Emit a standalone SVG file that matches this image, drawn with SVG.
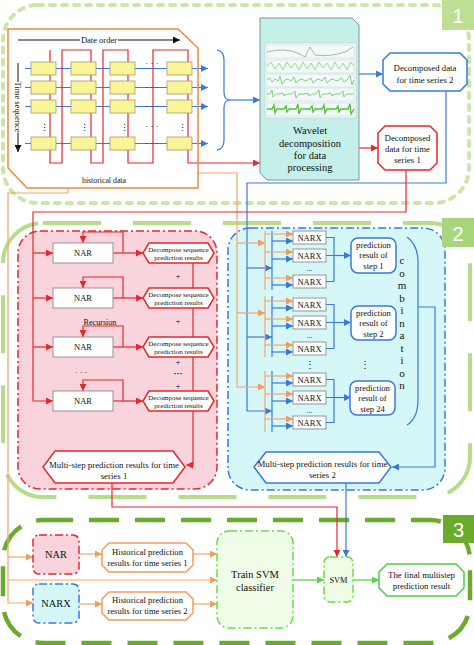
<svg xmlns="http://www.w3.org/2000/svg" width="474" height="645" viewBox="0 0 474 645">
<defs>
<style>
.t{font-family:"Liberation Serif","Times New Roman",serif;fill:#111;text-anchor:middle}
.lab{font-family:"Liberation Sans",Arial,sans-serif;fill:#fff;text-anchor:middle;font-size:20px}
.r{stroke:#e8262d;fill:none;stroke-width:1.2}
.b{stroke:#3a78de;fill:none;stroke-width:1.2}
.o{stroke:#f4a46c;fill:none;stroke-width:1.2}
.g{stroke:#55d447;fill:none;stroke-width:1.3}
.k{stroke:#111;fill:none;stroke-width:1}
.cell{fill:#fbf59a;stroke:#a09a6a;stroke-width:0.8}
.narx{fill:#fff;stroke:#8a8a8a;stroke-width:0.9}
.nar{fill:#fff;stroke:#8a8a8a;stroke-width:0.9}
.rb{fill:#fff;stroke:#e8262d;stroke-width:1.5}
.bb{fill:#fff;stroke:#3a78de;stroke-width:1.5}
.ob{fill:#fff;stroke:#f39a5c;stroke-width:1.5}
.dd{stroke-dasharray:8 3 2 3;stroke-width:1.5}
</style>
<marker id="mr" viewBox="0 0 10 10" refX="10" refY="5" markerWidth="7" markerHeight="7" orient="auto" markerUnits="userSpaceOnUse"><path d="M0,0L10,5L0,10z" fill="#e8262d"/></marker>
<marker id="mb" viewBox="0 0 10 10" refX="10" refY="5" markerWidth="7" markerHeight="7" orient="auto" markerUnits="userSpaceOnUse"><path d="M0,0L10,5L0,10z" fill="#3a78de"/></marker>
<marker id="mo" viewBox="0 0 10 10" refX="10" refY="5" markerWidth="7" markerHeight="7" orient="auto" markerUnits="userSpaceOnUse"><path d="M0,0L10,5L0,10z" fill="#f39a5c"/></marker>
<marker id="mg" viewBox="0 0 10 10" refX="10" refY="5" markerWidth="7" markerHeight="7" orient="auto" markerUnits="userSpaceOnUse"><path d="M0,0L10,5L0,10z" fill="#55d447"/></marker>
<marker id="mk" viewBox="0 0 10 10" refX="10" refY="5" markerWidth="7" markerHeight="7" orient="auto" markerUnits="userSpaceOnUse"><path d="M0,0L10,5L0,10z" fill="#111"/></marker>
</defs>
<rect width="474" height="645" fill="#fff"/>

<!-- regions -->
<g id="region1">
<rect x="3" y="5" width="466" height="198" rx="35" fill="none" stroke="#cbe7a8" stroke-width="4" stroke-dasharray="5 7" stroke-linecap="round"/>
<rect x="442" y="0" width="32" height="30" fill="#bcdf94"/>
<text class="lab" x="458" y="23">1</text>
</g>
<g id="region2">
<rect x="3" y="223" width="467" height="274" rx="40" fill="none" stroke="#b6dd8c" stroke-width="4" stroke-dasharray="58 32"/>
</g>
<g id="region3">
<rect x="3" y="520" width="467" height="123" rx="40" fill="none" stroke="#6aab2d" stroke-width="4.5" stroke-dasharray="30 16"/>
</g>

<g id="nar-area"><rect x="18" y="231" width="199" height="258" rx="22" fill="#f9d4dc" stroke="#e8262d" class="dd"/></g>
<g id="narx-area"><rect x="228" y="228" width="217" height="262" rx="22" fill="#d6f7f7" stroke="#3a78de" class="dd"/></g>
<g id="label2"><rect x="442" y="218" width="32" height="29" fill="#a9d67c"/><text class="lab" x="458" y="241">2</text></g>

<!-- connectors -->
<g id="connectors">
<!-- grid rows -->
<path class="b" d="M25,68.5H208" marker-end="url(#mb)"/>
<path class="b" d="M25,87.5H208" marker-end="url(#mb)"/>
<path class="b" d="M25,106.5H208" marker-end="url(#mb)"/>
<path class="b" d="M25,143.5H208" marker-end="url(#mb)"/>
<path class="r" d="M50,50V163H62V50H91V163H103V50H128V163H153V50H188V163H260" marker-end="url(#mr)"/>
<path class="b" d="M217,50Q224,51 224,60V92Q224,100 230,100Q224,100 224,108V140Q224,149 217,150"/>
<path class="b" d="M230,100H260" marker-end="url(#mb)"/>
<path class="k" d="M18,40H80M118,40H180" marker-end="url(#mk)"/>
<path class="k" d="M18,63V82M18,133V152" marker-end="url(#mk)"/>
<path class="b" d="M359,74H383" marker-end="url(#mb)"/>
<path class="r" d="M359,148H378" marker-end="url(#mr)"/>
<!-- decomposed 2 to NARX -->
<path class="b" d="M446,91V183H247V411H272" marker-end="url(#mb)"/>
<path class="b" d="M247,268H272" marker-end="url(#mb)"/>
<path class="b" d="M247,337H272" marker-end="url(#mb)"/>
<!-- orange from historical -->
<path class="o" d="M198,173H237V387H265" marker-end="url(#mo)"/>
<path class="o" d="M237,243H265" marker-end="url(#mo)"/>
<path class="o" d="M237,313H265" marker-end="url(#mo)"/>
<!-- buses -->
<path class="o" d="M265,231V290M265,296V357M265,371V432"/>
<path class="b" d="M272,231V290M272,296V357M272,371V432"/>
<!-- NARX inputs -->
<g>
<path class="o" d="M265,234H293" marker-end="url(#mo)"/><path class="b" d="M272,241H293" marker-end="url(#mb)"/>
<path class="o" d="M265,252H293" marker-end="url(#mo)"/><path class="b" d="M272,259H293" marker-end="url(#mb)"/>
<path class="o" d="M265,278H293" marker-end="url(#mo)"/><path class="b" d="M272,285H293" marker-end="url(#mb)"/>
<path class="o" d="M265,301H293" marker-end="url(#mo)"/><path class="b" d="M272,308H293" marker-end="url(#mb)"/>
<path class="o" d="M265,319H293" marker-end="url(#mo)"/><path class="b" d="M272,326H293" marker-end="url(#mb)"/>
<path class="o" d="M265,345H293" marker-end="url(#mo)"/><path class="b" d="M272,352H293" marker-end="url(#mb)"/>
<path class="o" d="M265,376H293" marker-end="url(#mo)"/><path class="b" d="M272,383H293" marker-end="url(#mb)"/>
<path class="o" d="M265,394H293" marker-end="url(#mo)"/><path class="b" d="M272,401H293" marker-end="url(#mb)"/>
<path class="o" d="M265,419H293" marker-end="url(#mo)"/><path class="b" d="M272,426H293" marker-end="url(#mb)"/>
</g>
<!-- NARX outputs -->
<path class="b" d="M326,237.5H334V281.5H326M326,255.5H334"/>
<path class="b" d="M334,255.5H351" marker-end="url(#mb)"/>
<path class="b" d="M326,304.5H334V348.5H326M326,322.5H334"/>
<path class="b" d="M334,322.5H351" marker-end="url(#mb)"/>
<path class="b" d="M326,379.5H334V422.5H326M326,397.5H334"/>
<path class="b" d="M334,397.5H351" marker-end="url(#mb)"/>
<path class="b" d="M407,237Q418,245 418,262V400Q418,418 407,425"/>
<path class="b" d="M418,307H435V467H392" marker-end="url(#mb)"/>
<!-- red to NAR -->
<path class="r" d="M406,170V212H33V401H53" marker-end="url(#mr)"/>
<path class="r" d="M33,253H53" marker-end="url(#mr)"/>
<path class="r" d="M33,298H53" marker-end="url(#mr)"/>
<path class="r" d="M33,347H53" marker-end="url(#mr)"/>
<g>
<path class="r" d="M113,253H143" marker-end="url(#mr)"/><path class="r" d="M123,253V232H83V243" marker-end="url(#mr)"/>
<path class="r" d="M113,298H143" marker-end="url(#mr)"/><path class="r" d="M123,298V277H83V288" marker-end="url(#mr)"/>
<path class="r" d="M113,347H143" marker-end="url(#mr)"/><path class="r" d="M123,347V326H83V337" marker-end="url(#mr)"/>
<path class="r" d="M113,401H143" marker-end="url(#mr)"/><path class="r" d="M123,401V380H83V391" marker-end="url(#mr)"/>
</g>
<path class="r" d="M193,263V465H186" marker-end="url(#mr)"/>
<!-- to SVM -->
<path class="r" d="M112,483V507H337V557" marker-end="url(#mr)"/>
<path class="b" d="M346,483V557" marker-end="url(#mb)"/>
<!-- region 3 orange -->
<path class="o" d="M68,188V193H8V603H33" marker-end="url(#mo)"/>
<path class="o" d="M8,557H33" marker-end="url(#mo)"/>
<path class="o" d="M8,580H217" marker-end="url(#mo)"/>
<path class="o" d="M79,554H102" marker-end="url(#mo)"/>
<path class="o" d="M193,554H217" marker-end="url(#mo)"/>
<path class="o" d="M79,604H102" marker-end="url(#mo)"/>
<path class="o" d="M193,604H217" marker-end="url(#mo)"/>
<path class="g" d="M293,580H324" marker-end="url(#mg)"/>
<path class="g" d="M353,580H379" marker-end="url(#mg)"/>
</g>

<!-- historical data node -->
<g id="historical-data">
<polygon points="8,29 178,29 198,48 198,188 27,188 8,168" fill="none" stroke="#f0883a" stroke-width="1.5"/>
<g>
<rect class="cell" x="31" y="62" width="25" height="13"/><rect class="cell" x="71" y="62" width="25" height="13"/><rect class="cell" x="110" y="62" width="25" height="13"/><rect class="cell" x="167" y="62" width="25" height="13"/>
<rect class="cell" x="31" y="81" width="25" height="13"/><rect class="cell" x="71" y="81" width="25" height="13"/><rect class="cell" x="110" y="81" width="25" height="13"/><rect class="cell" x="167" y="81" width="25" height="13"/>
<rect class="cell" x="31" y="100" width="25" height="13"/><rect class="cell" x="71" y="100" width="25" height="13"/><rect class="cell" x="110" y="100" width="25" height="13"/><rect class="cell" x="167" y="100" width="25" height="13"/>
<rect class="cell" x="31" y="137" width="25" height="13"/><rect class="cell" x="71" y="137" width="25" height="13"/><rect class="cell" x="110" y="137" width="25" height="13"/><rect class="cell" x="167" y="137" width="25" height="13"/>
</g>
<g class="t" font-size="9" style="font-family:'DejaVu Serif',serif">
<text x="44" y="131">⋮</text><text x="84" y="131">⋮</text><text x="124" y="131">⋮</text><text x="182" y="131">⋮</text>
</g>
<g class="t" font-size="9">
<text x="152" y="66">· · ·</text><text x="152" y="90">· · ·</text><text x="152" y="109">· · ·</text><text x="152" y="129">· · ·</text><text x="152" y="146">· · ·</text>
</g>
<text class="t" x="99" y="43" font-size="8.5">Date order</text>
<text class="t" font-size="8.5" transform="translate(15,107) rotate(90)">Time sequence</text>
<text class="t" x="104" y="183" font-size="7.8">historical data</text>
</g>

<g id="wavelet">
<polygon points="260,18 352,18 359,25 359,180 267,180 260,173" fill="#c5f0ea" stroke="#7f9795" stroke-width="1"/>
<rect x="265" y="43" width="91" height="75" fill="#f2faf9" stroke="#c8c8c8" stroke-width="0.6"/>
<g fill="none" stroke="#cfcfcf" stroke-width="0.5">
<rect x="267" y="45" width="87" height="13"/><rect x="267" y="60" width="87" height="13"/><rect x="267" y="74" width="87" height="13"/><rect x="267" y="88" width="87" height="13"/><rect x="267" y="103" width="87" height="13"/>
</g>
<path d="M267,52Q285,47 300,54L305,57L310,47L315,55Q330,57 345,52L353,47" fill="none" stroke="#9aa39a" stroke-width="0.8"/>
<polyline fill="none" stroke="#8ccf7a" stroke-width="0.8" points="267,66 271,62 275,69 279,63 283,70 287,62 291,68 295,63 299,70 303,62 307,69 311,63 315,70 319,62 323,68 327,63 331,70 335,62 339,69 343,63 347,70 351,62 354,66"/>
<polyline fill="none" stroke="#6cc45a" stroke-width="0.8" points="267,80 270,78 272,82 275,79 278,81 280,76 282,84 285,80 288,79 291,81 294,77 296,83 299,80 302,79 305,81 308,80 311,78 313,83 316,80 319,79 322,81 325,77 327,83 330,80 333,79 336,81 339,80 342,78 344,82 347,80 350,75 352,85 354,80"/>
<polyline fill="none" stroke="#6cc45a" stroke-width="0.8" points="267,94 270,94 272,90 273,97 276,94 280,94 283,93 284,96 287,94 292,94 295,91 296,98 299,94 304,94 308,93 309,96 312,94 316,94 319,90 320,98 323,94 328,94 331,93 332,96 335,94 340,94 343,91 344,97 347,94 354,94"/>
<polyline fill="none" stroke="#52bf3c" stroke-width="1.3" points="267,109 272,109 274,105 275,113 277,109 284,109 286,106 287,112 289,109 296,109 298,104 299,114 301,109 310,109 312,106 313,112 315,109 322,109 324,105 325,113 327,109 336,109 338,106 339,112 341,109 348,109 350,104 351,114 354,109"/>
<g class="t" font-size="10.5"><text x="310" y="134">Wavelet</text><text x="310" y="147">decomposition</text><text x="310" y="159">for data</text><text x="310" y="171">processing</text></g>
</g>

<g id="decomposed-2">
<polygon class="bb" points="390,53 460,53 467,60 467,84 460,91 390,91 383,84 383,60"/>
<g class="t" font-size="8.8"><text x="425" y="71">Decomposed data</text><text x="425" y="83">for time series 2</text></g>
</g>
<g id="decomposed-1">
<polygon class="rb" points="385,126 430,126 437,133 437,163 430,170 385,170 378,163 378,133"/>
<g class="t" font-size="8.8"><text x="407.5" y="141">Decomposed</text><text x="407.5" y="152">data for time</text><text x="407.5" y="163">series 1</text></g>
</g>

<!-- NAR column -->
<g id="nar-1"><rect class="nar" x="53" y="243" width="60" height="20"/><text class="t" x="83" y="256" font-size="8.5">NAR</text></g>
<g id="nar-2"><rect class="nar" x="53" y="288" width="60" height="20"/><text class="t" x="83" y="301" font-size="8.5">NAR</text></g>
<g id="nar-3"><rect class="nar" x="53" y="337" width="60" height="20"/><text class="t" x="83" y="350" font-size="8.5">NAR</text></g>
<g id="nar-4"><rect class="nar" x="53" y="391" width="60" height="20"/><text class="t" x="83" y="404" font-size="8.5">NAR</text></g>
<text class="t" x="100" y="325" font-size="8.1">Recursion</text>
<text class="t" x="81" y="375" font-size="8">· · ·</text>

<g id="dsp-1"><polygon class="rb" points="149,243 208,243 214,253 208,263 149,263 143,253"/><g class="t" font-size="7"><text x="178.5" y="251.5">Decompose sequence</text><text x="178.5" y="259.5">prediction results</text></g></g>
<g id="dsp-2"><polygon class="rb" points="149,288 208,288 214,298 208,308 149,308 143,298"/><g class="t" font-size="7"><text x="178.5" y="296.5">Decompose sequence</text><text x="178.5" y="304.5">prediction results</text></g></g>
<g id="dsp-3"><polygon class="rb" points="149,337 208,337 214,347 208,357 149,357 143,347"/><g class="t" font-size="7"><text x="178.5" y="345.5">Decompose sequence</text><text x="178.5" y="353.5">prediction results</text></g></g>
<g id="dsp-4"><polygon class="rb" points="149,391 208,391 214,401 208,411 149,411 143,401"/><g class="t" font-size="7"><text x="178.5" y="399.5">Decompose sequence</text><text x="178.5" y="407.5">prediction results</text></g></g>
<g class="t" font-size="9"><text x="178" y="279">+</text><text x="178" y="324">+</text><text x="178" y="365">+</text><text x="178" y="376" font-weight="bold">···</text><text x="178" y="389">+</text></g>

<g id="multi-1"><polygon class="rb" points="55,451 173,451 185,467 173,483 55,483 43,467"/><g class="t" font-size="8.8"><text x="114" y="468">Multi-step prediction results for time</text><text x="114" y="479">series 1</text></g></g>

<!-- NARX column -->
<g id="narx-g1">
<rect class="narx" x="293" y="231" width="33" height="13"/><text class="t" x="309.5" y="241" font-size="8.5">NARX</text>
<rect class="narx" x="293" y="249" width="33" height="13"/><text class="t" x="309.5" y="259" font-size="8.5">NARX</text>
<text class="t" x="309.5" y="271" font-size="8">...</text>
<rect class="narx" x="293" y="275" width="33" height="13"/><text class="t" x="309.5" y="285" font-size="8.5">NARX</text>
</g>
<g id="narx-g2">
<rect class="narx" x="293" y="298" width="33" height="13"/><text class="t" x="309.5" y="308" font-size="8.5">NARX</text>
<rect class="narx" x="293" y="316" width="33" height="13"/><text class="t" x="309.5" y="326" font-size="8.5">NARX</text>
<text class="t" x="309.5" y="338" font-size="8">...</text>
<rect class="narx" x="293" y="342" width="33" height="13"/><text class="t" x="309.5" y="352" font-size="8.5">NARX</text>
</g>
<g id="narx-g3">
<rect class="narx" x="293" y="373" width="33" height="13"/><text class="t" x="309.5" y="383" font-size="8.5">NARX</text>
<rect class="narx" x="293" y="391" width="33" height="13"/><text class="t" x="309.5" y="401" font-size="8.5">NARX</text>
<text class="t" x="309.5" y="413" font-size="8">...</text>
<rect class="narx" x="293" y="416" width="33" height="13"/><text class="t" x="309.5" y="426" font-size="8.5">NARX</text>
</g>
<g class="t" font-size="10" style="font-family:'DejaVu Serif',serif"><text x="310" y="368">⋮</text><text x="365" y="368">⋮</text></g>

<g id="pred-1"><rect class="bb" x="351" y="238" width="45" height="35" rx="7"/><g class="t" font-size="8.6"><text x="373.5" y="248">prediction</text><text x="373.5" y="258">result of</text><text x="373.5" y="269">step 1</text></g></g>
<g id="pred-2"><rect class="bb" x="351" y="306" width="45" height="34" rx="7"/><g class="t" font-size="8.6"><text x="373.5" y="316">prediction</text><text x="373.5" y="326">result of</text><text x="373.5" y="337">step 2</text></g></g>
<g id="pred-24"><rect class="bb" x="350" y="381" width="45" height="34" rx="7"/><g class="t" font-size="8.6"><text x="372.5" y="391">prediction</text><text x="372.5" y="401">result of</text><text x="372.5" y="412">step 24</text></g></g>

<text class="t" font-size="11"><tspan x="402" y="264">c</tspan><tspan x="402" dy="12.5">o</tspan><tspan x="402" dy="12.5">m</tspan><tspan x="402" dy="12.5">b</tspan><tspan x="402" dy="12.5">i</tspan><tspan x="402" dy="12.5">n</tspan><tspan x="402" dy="12.5">a</tspan><tspan x="402" dy="12.5">t</tspan><tspan x="402" dy="12.5">i</tspan><tspan x="402" dy="12.5">o</tspan><tspan x="402" dy="12.5">n</tspan></text>

<g id="multi-2"><polygon class="bb" points="266,452 379,452 391,467 379,483 266,483 254,467"/><g class="t" font-size="8.8"><text x="322.5" y="467">Multi-step prediction results for time</text><text x="322.5" y="478">series 2</text></g></g>

<!-- region 3 nodes -->
<g id="label3"><rect x="443" y="515" width="31" height="28" fill="#6aab2d"/><text class="lab" x="458.5" y="537">3</text></g>
<g id="nar-r3"><rect x="33" y="535" width="46" height="39" rx="6" fill="#f9d4dc" stroke="#e8262d" class="dd"/><text class="t" x="56" y="558" font-size="10.4">NAR</text></g>
<g id="narx-r3"><rect x="33" y="584" width="46" height="39" rx="6" fill="#d6f7f7" stroke="#3a78de" class="dd"/><text class="t" x="56" y="607" font-size="10.4">NARX</text></g>
<g id="hist-1"><polygon class="ob" points="109,543 186,543 193,550 193,565 186,572 109,572 102,565 102,550"/><g class="t" font-size="8.6"><text x="147.5" y="555">Historical prediction</text><text x="147.5" y="566">results for time series 1</text></g></g>
<g id="hist-2"><polygon class="ob" points="109,592 186,592 193,599 193,613 186,620 109,620 102,613 102,599"/><g class="t" font-size="8.6"><text x="147.5" y="603">Historical prediction</text><text x="147.5" y="614">results for time series 2</text></g></g>
<g id="train-svm"><rect x="217" y="531" width="76" height="97" rx="12" fill="#effde8" stroke="#66dd44" class="dd"/><g class="t" font-size="10.5"><text x="255" y="578">Train SVM</text><text x="255" y="591">classifier</text></g></g>
<g id="svm"><rect x="324" y="557" width="29" height="45" rx="6" fill="#effde8" stroke="#66dd44" class="dd"/><text class="t" x="338.5" y="583" font-size="8.3">SVM</text></g>
<g id="final"><polygon points="387,564 456,564 464,572 464,588 456,596 387,596 379,588 379,572" fill="#fff" stroke="#4ccc44" stroke-width="1.5"/><g class="t" font-size="8.8"><text x="421.5" y="578">The final multistep</text><text x="421.5" y="589">prediction result</text></g></g>
</svg>
